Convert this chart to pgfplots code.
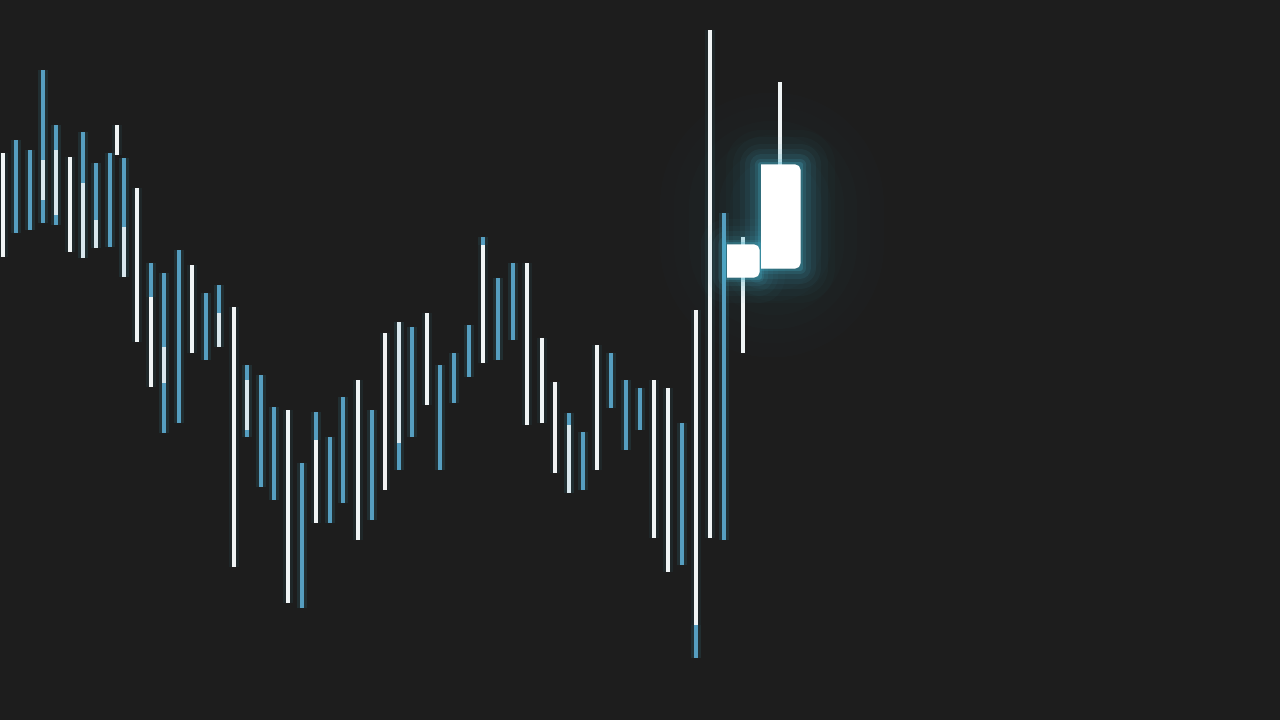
\documentclass[border=0pt]{standalone}
\usepackage{pgfplots}
\pgfplotsset{compat=1.18}
\usepackage{pgfplotstable}
\definecolor{bg}{RGB}{29,29,29}
\definecolor{bluel}{RGB}{86,158,192}
\definecolor{glowc}{RGB}{70,175,200}
\definecolor{whitel}{RGB}{240,244,245}

% white wicks: x, y (pixel rows), nan separators
\pgfplotstableread{
x y
3 153
3 257
nan nan
70 157
70 252
nan nan
117 125
117 155
nan nan
137 188
137 342
nan nan
151 297
151 387
nan nan
192 265
192 353
nan nan
234 307
234 567
nan nan
288 410
288 603
nan nan
316 440
316 523
nan nan
358 380
358 540
nan nan
385 333
385 490
nan nan
427 313
427 405
nan nan
483 245
483 363
nan nan
527 263
527 425
nan nan
542 338
542 423
nan nan
555 382
555 473
nan nan
597 345
597 470
nan nan
654 380
654 538
nan nan
668 388
668 572
nan nan
696 310
696 625
nan nan
710 30
710 538
}\whitetab

% blue wicks
\pgfplotstableread{
x y
16 140
16 233
nan nan
30 150
30 230
nan nan
43 70
43 223
nan nan
56 125
56 225
nan nan
83 132
83 258
nan nan
96 163
96 248
nan nan
110 153
110 247
nan nan
124 158
124 277
nan nan
151 263
151 297
nan nan
164 273
164 433
nan nan
179 250
179 423
nan nan
206 293
206 360
nan nan
219 285
219 347
nan nan
247 365
247 437
nan nan
261 375
261 487
nan nan
274 407
274 500
nan nan
302 463
302 608
nan nan
316 412
316 440
nan nan
330 437
330 523
nan nan
343 397
343 503
nan nan
372 410
372 520
nan nan
399 322
399 470
nan nan
412 327
412 437
nan nan
440 365
440 470
nan nan
454 353
454 403
nan nan
469 325
469 377
nan nan
483 237
483 245
nan nan
498 278
498 360
nan nan
513 263
513 340
nan nan
569 413
569 493
nan nan
583 432
583 490
nan nan
611 353
611 408
nan nan
626 380
626 450
nan nan
640 388
640 430
nan nan
682 423
682 565
nan nan
696 625
696 658
nan nan
724 213
724 540
}\bluetab

% white parts on the mixed (blue) wicks
\pgfplotstableread{
x y
43 160
43 200
nan nan
56 150
56 215
nan nan
83 183
83 258
nan nan
96 220
96 248
nan nan
124 227
124 277
nan nan
164 347
164 383
nan nan
219 313
219 347
nan nan
247 380
247 430
nan nan
399 322
399 443
nan nan
569 425
569 493
}\mixtab

% candle bodies (outline)
\pgfplotstableread{
x y
727 245
759 245
759 277
727 277
727 245
759 245
}\bodyA
\pgfplotstableread{
x y
761 165
800 165
800 268
761 268
761 165
800 165
}\bodyB

\begin{document}
\begin{tikzpicture}
\begin{axis}[
  scale only axis, width=12.8cm, height=7.2cm,
  xmin=0, xmax=1280, ymin=0, ymax=720, y dir=reverse,
  ticks=none, axis line style={draw=none},
  axis background/.style={fill=bg},
  clip=true,
  glow/.style={glowc, line join=round, line cap=round},
]
% broad faint halo behind the candles
\addplot[glow, line width=64pt, opacity=0.010] coordinates {(772,205) (772,245)};
\addplot[glow, line width=56pt, opacity=0.012] coordinates {(772,205) (772,245)};
\addplot[glow, line width=48pt, opacity=0.014] coordinates {(773,205) (773,245)};
\addplot[glow, line width=40pt, opacity=0.016] coordinates {(774,205) (774,245)};
\addplot[glow, line width=32pt, opacity=0.018] coordinates {(775,205) (775,245)};
\addplot[glow, line width=26pt, opacity=0.020] coordinates {(776,205) (776,245)};

% glow of the wicks
\addplot[glowc, line width=3pt, opacity=0.12, unbounded coords=jump] table {\bluetab};
\addplot[glowc, line width=3pt, opacity=0.07, unbounded coords=jump] table {\whitetab};
% wick cores
\addplot[bluel, line width=0.9pt, unbounded coords=jump] table {\bluetab};
\addplot[whitel, line width=0.9pt, unbounded coords=jump] table {\whitetab};
\addplot[whitel!85!bluel, line width=0.9pt, unbounded coords=jump] table {\mixtab};

% the two glowing candles: wicks
\addplot[whitel, line width=0.9pt] coordinates {(743,237) (743,353)};
\addplot[whitel, line width=0.9pt] coordinates {(780,82) (780,268)};
% body glow layers
\addplot[glow, line width=20pt, opacity=0.025] table {\bodyB};
\addplot[glow, line width=16pt, opacity=0.035] table {\bodyB};
\addplot[glow, line width=12pt, opacity=0.05] table {\bodyB};
\addplot[glow, line width=9pt, opacity=0.07] table {\bodyB};
\addplot[glow, line width=6pt, opacity=0.10] table {\bodyB};
\addplot[glow, line width=3.5pt, opacity=0.15] table {\bodyB};
\addplot[glow, line width=1.8pt, opacity=0.25] table {\bodyB};
\addplot[glow, line width=15pt, opacity=0.03] table {\bodyA};
\addplot[glow, line width=11pt, opacity=0.045] table {\bodyA};
\addplot[glow, line width=8pt, opacity=0.06] table {\bodyA};
\addplot[glow, line width=5pt, opacity=0.09] table {\bodyA};
\addplot[glow, line width=3pt, opacity=0.15] table {\bodyA};
\addplot[glow, line width=1.5pt, opacity=0.25] table {\bodyA};
% bodies
\addplot[fill=white, draw=white, line width=0.4pt, rounded corners=1.5pt] table[row sep=\\] {x y\\ 727 245\\ 759 245\\ 759 277\\ 727 277\\};
\addplot[fill=white, draw=white, line width=0.4pt, rounded corners=1.5pt] table[row sep=\\] {x y\\ 761 165\\ 800 165\\ 800 268\\ 761 268\\};
\end{axis}
\end{tikzpicture}
\end{document}
